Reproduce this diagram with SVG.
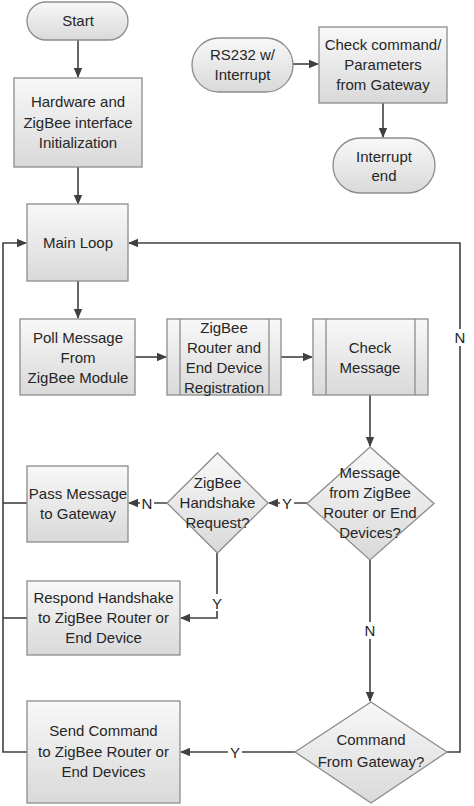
<svg xmlns="http://www.w3.org/2000/svg" width="474" height="806" viewBox="0 0 474 806">
<defs>
<linearGradient id="g" x1="0" y1="0" x2="0" y2="1">
<stop offset="0" stop-color="#f8f8f8"/>
<stop offset="1" stop-color="#d9d9d9"/>
</linearGradient>
<marker id="ah" markerWidth="10" markerHeight="10" refX="9" refY="5" orient="auto" markerUnits="userSpaceOnUse">
<path d="M0,0.8 L10,5 L0,9.2 Z" fill="#404040"/>
</marker>
</defs>
<style>
.s{fill:url(#g);stroke:#8c8c8c;stroke-width:1.3}
.l{fill:none;stroke:#8c8c8c;stroke-width:1.3}
.t{font-family:"Liberation Sans",Arial,sans-serif;font-size:15px;fill:#262626;text-anchor:middle}
.c{fill:none;stroke:#404040;stroke-width:1.6}
.a{marker-end:url(#ah)}
.lb{font-family:"Liberation Sans",Arial,sans-serif;font-size:15px;fill:#262626;text-anchor:middle}
</style>
<rect width="474" height="806" fill="#ffffff"/>

<g id="connectors">
<path class="c a" d="M78,40 V77"/>
<path class="c a" d="M78,167 V204"/>
<path class="c a" d="M78,281 V318"/>
<path class="c a" d="M135,357 H166"/>
<path class="c a" d="M281,357 H312"/>
<path class="c a" d="M370,395 V446"/>
<path class="c a" d="M307,503 H269"/>
<path class="c a" d="M167,503 H129"/>
<path class="c a" d="M217,553 V618 H181"/>
<path class="c a" d="M370,560 V701"/>
<path class="c a" d="M295,752 H181"/>
<path class="c a" d="M447,752 H460 V243 H129"/>
<path class="c a" d="M27,752 H3 V243 H26"/>
<path class="c" d="M27,503 H3"/>
<path class="c" d="M27,618 H3"/>
<path class="c a" d="M293,64 H318"/>
<path class="c a" d="M383,103 V137"/>
<rect x="280" y="495" width="14" height="16" fill="#ffffff"/>
<text class="lb" x="287" y="509">Y</text>
<rect x="140" y="495" width="14" height="16" fill="#ffffff"/>
<text class="lb" x="147" y="509">N</text>
<rect x="210" y="594" width="14" height="17" fill="#ffffff"/>
<text class="lb" x="217" y="609">Y</text>
<rect x="363" y="622" width="14" height="17" fill="#ffffff"/>
<text class="lb" x="370" y="636">N</text>
<rect x="228" y="744" width="14" height="16" fill="#ffffff"/>
<text class="lb" x="235" y="758">Y</text>
<rect x="453" y="329" width="14" height="17" fill="#ffffff"/>
<text class="lb" x="460" y="343">N</text>
</g>

<g id="start">
<rect class="s" x="27" y="2" width="101" height="38" rx="19"/>
<text class="t" x="78" y="26">Start</text>
</g>
<g id="hw-init">
<rect class="s" x="14" y="78" width="128" height="89"/>
<text class="t" x="78" y="107">Hardware and</text>
<text class="t" x="78" y="128">ZigBee interface</text>
<text class="t" x="78" y="148">Initialization</text>
</g>
<g id="main-loop">
<rect class="s" x="27" y="204" width="101" height="77"/>
<text class="t" x="78" y="248">Main Loop</text>
</g>
<g id="poll">
<rect class="s" x="20" y="319" width="115" height="76"/>
<text class="t" x="78" y="343">Poll Message</text>
<text class="t" x="78" y="363">From</text>
<text class="t" x="78" y="383">ZigBee Module</text>
</g>
<g id="registration">
<rect class="s" x="167" y="319" width="114" height="76"/>
<path class="l" d="M180,319 V395 M269,319 V395"/>
<text class="t" x="224" y="333">ZigBee</text>
<text class="t" x="224" y="353">Router and</text>
<text class="t" x="224" y="373">End Device</text>
<text class="t" x="224" y="393">Registration</text>
</g>
<g id="check-message">
<rect class="s" x="313" y="319" width="115" height="76"/>
<path class="l" d="M326,319 V395 M415,319 V395"/>
<text class="t" x="370" y="353">Check</text>
<text class="t" x="370" y="373">Message</text>
</g>
<g id="msg-from-zigbee">
<polygon class="s" points="370,447 434,503.5 370,560 307,503.5"/>
<text class="t" x="370" y="478">Message</text>
<text class="t" x="370" y="498">from ZigBee</text>
<text class="t" x="370" y="518">Router or End</text>
<text class="t" x="370" y="538">Devices?</text>
</g>
<g id="handshake-request">
<polygon class="s" points="217.5,453 268,503 217.5,553 167,503"/>
<text class="t" x="217.5" y="488">ZigBee</text>
<text class="t" x="217.5" y="508">Handshake</text>
<text class="t" x="217.5" y="528">Request?</text>
</g>
<g id="pass-message">
<rect class="s" x="27" y="466" width="101" height="76"/>
<text class="t" x="78" y="499">Pass Message</text>
<text class="t" x="78" y="519">to Gateway</text>
</g>
<g id="respond-handshake">
<rect class="s" x="27" y="581" width="153" height="74"/>
<text class="t" x="103.5" y="603">Respond Handshake</text>
<text class="t" x="103.5" y="623">to ZigBee Router or</text>
<text class="t" x="103.5" y="643">End Device</text>
</g>
<g id="command-from-gateway">
<polygon class="s" points="371,702 447,752 371,803 295,752"/>
<text class="t" x="371" y="745">Command</text>
<text class="t" x="371" y="767">From Gateway?</text>
</g>
<g id="send-command">
<rect class="s" x="27" y="701" width="153" height="102"/>
<text class="t" x="103.5" y="736">Send Command</text>
<text class="t" x="103.5" y="757">to ZigBee Router or</text>
<text class="t" x="103.5" y="777">End Devices</text>
</g>
<g id="rs232">
<rect class="s" x="192" y="38" width="101" height="54" rx="27"/>
<text class="t" x="242.5" y="60">RS232 w/</text>
<text class="t" x="242.5" y="80">Interrupt</text>
</g>
<g id="check-command">
<rect class="s" x="319" y="27" width="128" height="76"/>
<text class="t" x="383" y="50">Check command/</text>
<text class="t" x="383" y="70">Parameters</text>
<text class="t" x="383" y="90">from Gateway</text>
</g>
<g id="interrupt-end">
<rect class="s" x="333" y="138" width="102" height="55" rx="27.5"/>
<text class="t" x="384" y="162">Interrupt</text>
<text class="t" x="384" y="181">end</text>
</g>
</svg>
